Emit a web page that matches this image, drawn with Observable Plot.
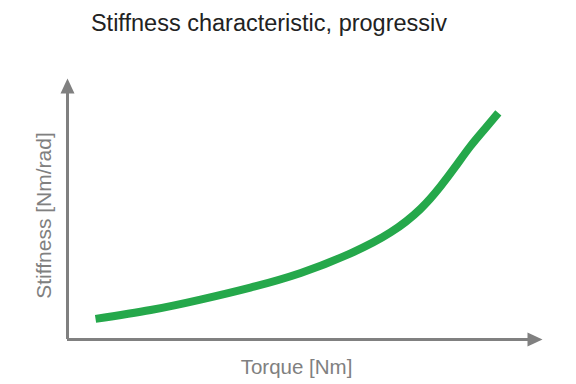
<!DOCTYPE html>
<html>
<head>
<meta charset="utf-8">
<script src="https://cdn.jsdelivr.net/npm/d3@7"></script>
<script src="https://cdn.jsdelivr.net/npm/@observablehq/plot@0.6"></script>
<style>
  body { margin: 0; background: #fff; font-family: "Liberation Sans", Arial, sans-serif; }
  #title { box-sizing: border-box; height: 44px; width: 538px; padding-top: 10px; text-align: center;
           font-size: 23.5px; color: #222; white-space: nowrap; }
</style>
</head>
<body>
<div id="title">Stiffness characteristic, progressiv</div>
<div id="chart"></div>
<script>
// Torque (relative, 0-100) and stiffness (relative, 0-100)
const torque    = [5.9, 17.5, 28.0, 38.5, 49.1, 59.6, 68.0, 74.3, 78.5, 81.7, 84.8, 88.0, 90.7];
const stiffness = [7.9, 11.3, 15.3, 19.9, 25.5, 33.0, 41.0, 50.0, 58.6, 66.3, 74.0, 81.0, 86.8];
const xLabel = "Torque [Nm]";
const yLabel = "Stiffness [Nm/rad]";
const axisMax = 100;

const curve = torque.map((t, i) => ({torque: t, stiffness: stiffness[i]}));

const gray = "#808080";
const arrowHead = {
  draw(context) {
    context.moveTo(0, 0);
    context.lineTo(7, 15);
    context.lineTo(-7, 15);
    context.closePath();
  }
};

const chart = Plot.plot({
  width: 576,
  height: 340,
  marginLeft: 67,
  marginRight: 34,
  marginTop: 34,
  marginBottom: 45,
  style: {fontFamily: "Liberation Sans, Arial, sans-serif", background: "#fff"},
  x: {domain: [0, axisMax], axis: null},
  y: {domain: [0, axisMax], axis: null},
  marks: [
    Plot.ruleY([0], {x1: 0, x2: axisMax - 2, stroke: gray, strokeWidth: 3}),
    Plot.ruleX([0], {y1: 0, y2: axisMax - 4, stroke: gray, strokeWidth: 3}),
    Plot.dot([{x: 0, y: axisMax}], {x: "x", y: "y", symbol: arrowHead, r: 5, fill: gray, stroke: "none"}),
    Plot.dot([{x: axisMax, y: 0}], {x: "x", y: "y", symbol: arrowHead, r: 5, rotate: 90, fill: gray, stroke: "none"}),
    Plot.line(curve, {x: "torque", y: "stiffness", curve: "natural", stroke: "#25a84b",
                      strokeWidth: 8, strokeLinecap: "butt", strokeLinejoin: "round"}),
    Plot.text([xLabel], {frameAnchor: "bottom", text: d => d, dx: -8.5, dy: 19.5, lineAnchor: "top",
                         fontSize: 20.5, fill: gray}),
    Plot.text([yLabel], {frameAnchor: "left", textAnchor: "middle", text: d => d, dx: -23, dy: 6.5, rotate: -90,
                         lineAnchor: "middle", fontSize: 21, fill: gray})
  ]
});
document.getElementById("chart").appendChild(chart);
</script>
</body>
</html>
